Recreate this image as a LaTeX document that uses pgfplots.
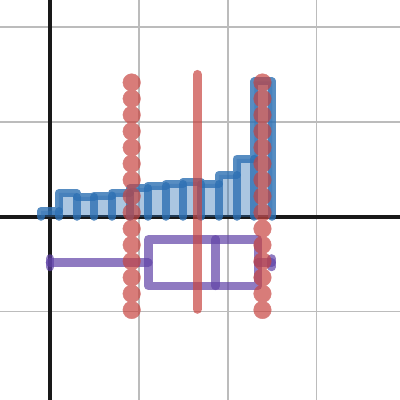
\documentclass[border=0pt]{standalone}
\usepackage{pgfplots}
\pgfplotsset{compat=1.18}
\definecolor{dblue}{HTML}{2D70B3}
\definecolor{dred}{HTML}{C74440}
\definecolor{dpurple}{HTML}{6042A6}
\definecolor{gridgray}{RGB}{188,188,188}
\definecolor{axisblack}{RGB}{25,25,25}
\begin{document}
\begin{tikzpicture}
\begin{axis}[
  scale only axis, width=400pt, height=400pt,
  xmin=-0.5624, xmax=3.937, ymin=-1.9305, ymax=2.2845,
  axis line style={draw=none},
  xtick={1,2,3}, ytick={-1,1,2},
  xticklabels={}, yticklabels={},
  major tick length=0pt,
  grid=major,
  major grid style={draw=gridgray, line width=1.5pt},
  extra x ticks={0}, extra y ticks={0},
  extra x tick labels={}, extra y tick labels={},
  extra tick style={grid=major, major grid style={draw=axisblack, line width=3.5pt}},
  unbounded coords=jump,
]
% histogram fill
\addplot[draw=none, fill=dblue, fill opacity=0.4] coordinates {
(-0.1,0) (-0.1,0.061) (0.1,0.061) (0.1,0.251) (0.3,0.251) (0.3,0.209) (0.5,0.209)
(0.5,0.224) (0.7,0.224) (0.7,0.251) (0.9,0.251) (0.9,0.303) (1.1,0.303) (1.1,0.325)
(1.3,0.325) (1.3,0.346) (1.5,0.346) (1.5,0.367) (1.7,0.367) (1.7,0.346) (1.9,0.346)
(1.9,0.441) (2.1,0.441) (2.1,0.611) (2.3,0.611) (2.3,1.426) (2.5,1.426) (2.5,0)} -- cycle;
% histogram outline
\addplot[draw=dblue, draw opacity=0.8, line width=8pt, line cap=round, line join=round] coordinates {
(-0.1,0) (-0.1,0.061) (0.1,0.061) (0.1,0.251) (0.3,0.251) (0.3,0.209) (0.5,0.209)
(0.5,0.224) (0.7,0.224) (0.7,0.251) (0.9,0.251) (0.9,0.303) (1.1,0.303) (1.1,0.325)
(1.3,0.325) (1.3,0.346) (1.5,0.346) (1.5,0.367) (1.7,0.367) (1.7,0.346) (1.9,0.346)
(1.9,0.441) (2.1,0.441) (2.1,0.611) (2.3,0.611) (2.3,1.426) (2.5,1.426) (2.5,0)};
% histogram dividers
\addplot[draw=dblue, draw opacity=0.8, line width=8pt, line cap=round] coordinates {
(0.1,0) (0.1,0.061) (0.1,nan)
(0.3,0) (0.3,0.209) (0.3,nan)
(0.5,0) (0.5,0.209) (0.5,nan)
(0.7,0) (0.7,0.224) (0.7,nan)
(0.9,0) (0.9,0.251) (0.9,nan)
(1.1,0) (1.1,0.303) (1.1,nan)
(1.3,0) (1.3,0.325) (1.3,nan)
(1.5,0) (1.5,0.346) (1.5,nan)
(1.7,0) (1.7,0.346) (1.7,nan)
(1.9,0) (1.9,0.346) (1.9,nan)
(2.1,0) (2.1,0.441) (2.1,nan)
(2.3,0) (2.3,0.611)};
% box plot
\addplot[draw=dpurple, draw opacity=0.7, line width=8.5pt, line cap=round, line join=round] coordinates {
(1.106,-0.237) (2.337,-0.237) (2.337,-0.729) (1.106,-0.729)} -- cycle;
\addplot[draw=dpurple, draw opacity=0.7, line width=8.5pt, line cap=round] coordinates {(1.864,-0.237) (1.864,-0.729)};
\addplot[draw=dpurple, draw opacity=0.7, line width=8.5pt, line cap=round] coordinates {(0,-0.484) (1.106,-0.484)};
\addplot[draw=dpurple, draw opacity=0.7, line width=8.5pt, line cap=round] coordinates {(2.337,-0.484) (2.494,-0.484)};
\addplot[draw=dpurple, draw opacity=0.7, line width=8.5pt, line cap=round] coordinates {(0,-0.439) (0,-0.529)};
\addplot[draw=dpurple, draw opacity=0.7, line width=8.5pt, line cap=round] coordinates {(2.494,-0.439) (2.494,-0.529)};
% red vertical line
\addplot[draw=dred, draw opacity=0.7, line width=9pt, line cap=round] coordinates {(1.657,1.50) (1.657,-0.975)};
% red dots
\begin{scope}[transparency group, opacity=0.7]
\addplot[only marks, mark=*, mark size=8.8pt, mark options={draw=dred, fill=dred, line width=0.4pt, draw opacity=1, fill opacity=1}] coordinates {
(0.919,1.415) (0.919,1.244) (0.919,1.073) (0.919,0.901) (0.919,0.730) (0.919,0.559)
(0.919,0.388) (0.919,0.217) (0.919,0.046) (0.919,-0.126) (0.919,-0.297) (0.919,-0.468)
(0.919,-0.639) (0.919,-0.811) (0.919,-0.982)};
\end{scope}
\begin{scope}[transparency group, opacity=0.7]
\addplot[only marks, mark=*, mark size=8.8pt, mark options={draw=dred, fill=dred, line width=0.4pt, draw opacity=1, fill opacity=1}] coordinates {
(2.390,1.415) (2.390,1.244) (2.390,1.073) (2.390,0.901) (2.390,0.730) (2.390,0.559)
(2.390,0.388) (2.390,0.217) (2.390,0.046) (2.390,-0.126) (2.390,-0.297) (2.390,-0.468)
(2.390,-0.639) (2.390,-0.811) (2.390,-0.982)};
\end{scope}
\end{axis}
\pgfresetboundingbox
\path (current axis.south west) rectangle (current axis.north east);
\end{tikzpicture}
\end{document}
